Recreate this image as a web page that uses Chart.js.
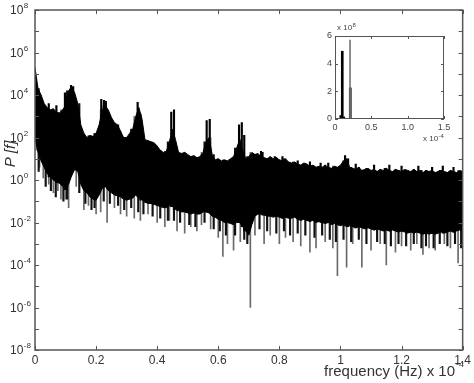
<!DOCTYPE html>
<html><head><meta charset="utf-8">
<script src="https://cdn.jsdelivr.net/npm/chart.js@4.4.0/dist/chart.umd.min.js"></script>
<style>
html,body{margin:0;padding:0;background:#fff;}
#wrap{position:relative;width:474px;height:383px;overflow:hidden;}
#main{position:absolute;left:0;top:0;}
#inset{position:absolute;left:310px;top:22px;}
</style></head><body>
<div id="wrap">
<canvas id="main" width="474" height="383"></canvas>
<canvas id="inset" width="150" height="125"></canvas>
</div>
<script>
// ---------- data ----------
// frequency (x 10^-4 Hz)
const freq = [
0.00,0.01,0.02,0.03,0.04,0.05,0.06,0.07,0.08,0.09,
0.10,0.11,0.12,0.13,0.14,0.15,0.16,0.17,0.18,0.19,
0.20,0.21,0.22,0.23,0.24,0.25,0.26,0.27,0.28,0.29,
0.30,0.31,0.32,0.33,0.34,0.35,0.36,0.37,0.38,0.39,
0.40,0.41,0.42,0.43,0.44,0.45,0.46,0.47,0.48,0.49,
0.50,0.51,0.52,0.53,0.54,0.55,0.56,0.57,0.58,0.59,
0.60,0.61,0.62,0.63,0.64,0.65,0.66,0.67,0.68,0.69,
0.70,0.71,0.72,0.73,0.74,0.75,0.76,0.77,0.78,0.79,
0.80,0.81,0.82,0.83,0.84,0.85,0.86,0.87,0.88,0.89,
0.90,0.91,0.92,0.93,0.94,0.95,0.96,0.97,0.98,0.99,
1.00,1.01,1.02,1.03,1.04,1.05,1.06,1.07,1.08,1.09,
1.10,1.11,1.12,1.13,1.14,1.15,1.16,1.17,1.18,1.19,
1.20,1.21,1.22,1.23,1.24,1.25,1.26,1.27,1.28,1.29,
1.30,1.31,1.32,1.33,1.34,1.35,1.36,1.37,1.38,1.39,
1.40];
// upper envelope of the spectrum, log10 P[f]
const upperExp = [
5.3,4.3,4.0,3.6,3.4,3.3,3.35,3.2,3.15,3.3,
3.5,4.2,4.4,4.1,3.6,2.6,2.2,2.0,2.1,2.05,
2.2,2.6,3.3,3.5,3.3,2.95,2.7,2.6,2.3,2.0,
2.0,2.2,2.4,3.0,3.4,2.9,1.9,1.85,1.8,1.75,
1.6,1.4,1.3,1.35,1.8,2.4,1.9,1.3,1.25,1.3,
1.2,1.1,1.15,1.05,1.1,1.3,1.8,2.0,1.2,0.95,
1.0,0.9,0.95,0.9,1.0,1.1,1.5,1.9,1.4,1.0,
1.1,1.3,1.2,1.25,1.1,1.05,1.0,1.1,1.0,1.05,
0.95,0.9,1.0,0.85,0.8,0.85,0.75,0.7,0.8,0.75,
0.65,0.7,0.6,0.65,0.6,0.7,0.6,0.55,0.65,0.6,
0.7,0.9,1.0,0.6,0.55,0.5,0.6,0.45,0.5,0.55,
0.45,0.5,0.4,0.5,0.45,0.55,0.45,0.4,0.5,0.45,
0.4,0.5,0.45,0.4,0.5,0.4,0.45,0.35,0.45,0.4,
0.45,0.35,0.4,0.45,0.4,0.35,0.45,0.4,0.35,0.45,
0.4];
// lower envelope of the dense black band, log10 P[f]
const lowerExp = [
2.0,1.3,0.9,0.6,0.3,0.15,0.0,-0.1,-0.15,-0.3,
-0.45,-0.2,0.2,0.5,0.4,-0.2,-0.5,-0.6,-0.8,-0.9,
-0.95,-0.7,-0.4,-0.3,-0.5,-0.6,-0.7,-0.75,-0.8,-0.9,
-0.95,-0.9,-0.85,-0.7,-0.8,-0.95,-1.05,-1.1,-1.1,-1.15,
-1.2,-1.25,-1.3,-1.3,-1.2,-1.25,-1.4,-1.45,-1.5,-1.5,
-1.55,-1.6,-1.55,-1.6,-1.6,-1.5,-1.5,-1.55,-1.7,-1.75,
-1.85,-1.9,-2.0,-2.0,-2.05,-2.1,-2.0,-2.0,-2.2,-2.4,
-2.6,-2.1,-1.7,-1.6,-1.6,-1.65,-1.7,-1.7,-1.75,-1.7,
-1.75,-1.8,-1.75,-1.8,-1.8,-1.75,-1.85,-1.9,-1.85,-1.9,
-1.95,-1.9,-2.0,-1.95,-2.0,-2.05,-2.0,-2.1,-2.05,-2.1,
-2.15,-2.1,-2.2,-2.15,-2.2,-2.25,-2.2,-2.25,-2.3,-2.25,
-2.3,-2.35,-2.3,-2.35,-2.4,-2.35,-2.4,-2.35,-2.4,-2.45,
-2.4,-2.45,-2.5,-2.45,-2.5,-2.45,-2.5,-2.55,-2.5,-2.55,
-2.5,-2.55,-2.5,-2.45,-2.5,-2.45,-2.4,-2.45,-2.4,-2.35,
-2.4];
// narrow upward peaks: frequency, log10 P
const upSpikeX   = [0.045,0.07,0.098,0.103,0.118,0.125,0.217,0.226,0.232,0.336,0.345,0.446,0.455,0.562,0.572,0.668,0.677,0.685,0.74,0.745,0.785,0.81,0.86,0.9,0.935,0.96,1.015,1.025,1.05,1.11,1.16,1.2,1.255,1.3,1.335,1.37];
const upSpikeExp = [3.6,3.5,4.1,3.9,4.45,4.4,3.8,3.75,3.7,3.65,3.1,3.2,3.3,2.8,2.85,2.6,2.7,2.1,1.35,1.3,1.1,1.1,0.9,0.85,0.8,0.8,1.15,1.0,0.75,0.7,0.7,0.65,0.65,0.6,0.65,0.6];
// black downward fluctuations
const dipX   = [0.012,0.035,0.052,0.068,0.093,0.105,0.145,0.165,0.185,0.195,0.225,0.245,0.272,0.292,0.315,0.338,0.355,0.385,0.41,0.435,0.455,0.475,0.505,0.525,0.555,0.585,0.605,0.625,0.655,0.685,0.695,0.735,0.76,0.79,0.815,0.835,0.86,0.885,0.915,0.94,0.965,0.985,1.01,1.035,1.06,1.085,1.12,1.145,1.165,1.19,1.215,1.24,1.265,1.28,1.305,1.325,1.35,1.375,1.395];
const dipExp = [0.4,-0.3,-0.5,-0.8,-1.0,-0.9,-0.6,-1.1,-1.4,-1.3,-1.0,-1.1,-1.2,-1.4,-1.3,-1.5,-1.6,-1.7,-1.8,-1.9,-1.9,-2.0,-2.1,-2.2,-2.0,-2.3,-2.4,-2.6,-2.6,-2.8,-3.0,-2.3,-2.4,-2.5,-2.4,-2.6,-2.5,-2.6,-2.7,-2.6,-2.8,-2.9,-2.8,-2.9,-2.8,-3.0,-2.9,-3.0,-3.1,-3.0,-3.1,-3.0,-3.2,-3.1,-3.2,-3.0,-3.1,-3.0,-3.2];
// grey deep downward spikes
const grayDipX   = [0.005,0.015,0.027,0.045,0.06,0.075,0.085,0.1,0.11,0.135,0.16,0.175,0.2,0.215,0.236,0.26,0.28,0.3,0.325,0.345,0.37,0.4,0.425,0.44,0.465,0.49,0.51,0.53,0.545,0.575,0.6,0.615,0.63,0.65,0.672,0.705,0.72,0.75,0.77,0.8,0.82,0.845,0.87,0.9,0.92,0.95,0.975,0.99,1.02,1.04,1.07,1.1,1.13,1.15,1.18,1.2,1.23,1.25,1.27,1.29,1.31,1.34,1.36,1.385];
const grayDipExp = [1.4,0.6,0.1,-0.2,-0.6,-0.5,-0.9,-0.9,-1.3,-0.3,-1.4,-1.2,-1.6,-1.5,-2.0,-1.3,-1.6,-1.7,-1.8,-1.9,-1.6,-2.0,-2.2,-1.9,-2.4,-2.5,-2.2,-2.4,-2.1,-2.3,-2.7,-3.6,-3.0,-3.3,-2.9,-6.0,-2.6,-3.0,-2.6,-3.0,-2.7,-2.9,-3.1,-3.4,-3.2,-2.9,-3.2,-4.5,-4.1,-3.0,-4.1,-3.3,-3.0,-4.0,-3.4,-3.1,-3.3,-3.0,-3.5,-3.2,-3.3,-3.0,-3.2,-3.9];
// axis ticks
const xTickValues = [0,0.2,0.4,0.6,0.8,1.0,1.2,1.4];
const yTickValues = [1e-8,1e-7,1e-6,1e-5,1e-4,1e-3,1e-2,1e-1,1e0,1e1,1e2,1e3,1e4,1e5,1e6,1e7,1e8];
const yLabelExps = [8,6,4,2,0,-2,-4,-6,-8];
// inset (linear, x 10^8 vs x 10^-4 Hz)
const insetBarX = [0.08,0.1,0.12,0.21];
const insetBarY = [0.25,4.9,0.15,2.25];
const insetLineX = [0.207];
const insetLineY = [5.7];
const insetXTicks = [0,0.5,1,1.5];
const insetYTicks = [0,2,4,6];

// ---------- chart ----------
const FONT = "'Liberation Sans', Arial, Helvetica, sans-serif";
Chart.defaults.font.family = FONT;
Chart.defaults.color = '#333';
const p10 = e => Math.pow(10, e);
const idx = x => Math.min(freq.length-1, Math.max(0, Math.round(x/0.01)));

const upperPts = freq.map((f,i)=>({x:f, y:p10(upperExp[i])}));
const lowerPts = freq.map((f,i)=>({x:f, y:p10(lowerExp[i])}));
const upSpikes = upSpikeX.map((x,i)=>({x, y:[p10(lowerExp[idx(x)]), p10(upSpikeExp[i])]}));
const dips = dipX.map((x,i)=>({x, y:[p10(dipExp[i]), p10(upperExp[idx(x)])]}));
const grayDips = grayDipX.map((x,i)=>({x, y:[p10(grayDipExp[i]), p10(upperExp[idx(x)])]}));

function drawSup(ctx, base, exp, x, y, bigSize, smallSize, dy){
  ctx.font = bigSize + 'px ' + FONT;
  ctx.textAlign = 'left';
  ctx.fillText(base, x, y);
  const w = ctx.measureText(base).width;
  ctx.font = smallSize + 'px ' + FONT;
  ctx.fillText(exp, x + w + 0.5, y - dy);
}

const mainDeco = {
  id: 'mainDeco',
  afterDraw(chart){
    const {ctx, chartArea:a, scales:{x, y}} = chart;
    ctx.save();
    ctx.strokeStyle = '#555'; ctx.lineWidth = 1;
    ctx.beginPath();
    xTickValues.forEach(v=>{
      const px = Math.round(x.getPixelForValue(v)) + 0.5;
      ctx.moveTo(px, a.bottom); ctx.lineTo(px, a.bottom - 4);
      ctx.moveTo(px, a.top); ctx.lineTo(px, a.top + 4);
    });
    yTickValues.forEach(v=>{
      const py = Math.round(y.getPixelForValue(v)) + 0.5;
      ctx.moveTo(a.left, py); ctx.lineTo(a.left + 4, py);
      ctx.moveTo(a.right, py); ctx.lineTo(a.right - 4, py);
    });
    ctx.stroke();
    ctx.lineWidth = 1.5;
    ctx.strokeRect(a.left, a.top, a.right - a.left, a.bottom - a.top);
    // y tick labels 10^n
    ctx.fillStyle = '#333';
    ctx.textBaseline = 'middle';
    yLabelExps.forEach(e=>{
      const py = y.getPixelForValue(p10(e));
      drawSup(ctx, '10', String(e), 10, py + 1, 12, 8, 5);
    });
    // x title
    ctx.textBaseline = 'alphabetic';
    ctx.font = '15px ' + FONT;
    ctx.textAlign = 'right';
    ctx.fillText('frequency (Hz) x 10', 455, 376);
    ctx.font = '9px ' + FONT;
    ctx.textAlign = 'left';
    ctx.fillText('-4', 456, 367);
    // y title
    ctx.save();
    ctx.translate(11, 154);
    ctx.rotate(-Math.PI/2);
    ctx.font = 'italic 15px ' + FONT;
    ctx.textAlign = 'center';
    ctx.textBaseline = 'middle';
    ctx.fillText('P [f]', 0, 0);
    ctx.restore();
    ctx.restore();
  }
};

new Chart(document.getElementById('main'), {
  type: 'line',
  data: {
    datasets: [
      {type:'line', data: upperPts, borderColor:'#000', backgroundColor:'#000', borderWidth:1, pointRadius:0, fill:'+1', order:0},
      {type:'line', data: lowerPts, borderColor:'#000', backgroundColor:'#000', borderWidth:1, pointRadius:0, fill:false, order:0},
      {type:'bar', data: upSpikes, backgroundColor:'#000', barThickness:1.5, grouped:false, order:1},
      {type:'bar', data: dips, backgroundColor:'#111', barThickness:1.5, grouped:false, order:2},
      {type:'bar', data: grayDips, backgroundColor:'#6a6a6a', barThickness:1, grouped:false, order:3}
    ]
  },
  options: {
    responsive:false, animation:false, devicePixelRatio:1,
    layout:{padding:{left:0, right:9, top:10, bottom:0}},
    plugins:{legend:{display:false}, tooltip:{enabled:false}},
    scales:{
      x:{type:'linear', min:0, max:1.4, offset:false,
         grid:{display:false, drawTicks:false, tickLength:0}, border:{display:false},
         afterBuildTicks(s){ s.ticks = xTickValues.map(v=>({value:v})); },
         ticks:{autoSkip:false, maxRotation:0, padding:3, color:'#333', font:{size:12},
                callback:v=>String(+v.toFixed(1))},
         afterFit(s){ s.height = 33; }},
      y:{type:'logarithmic', min:1e-8, max:1e8,
         grid:{display:false, drawTicks:false, tickLength:0}, border:{display:false},
         afterBuildTicks(s){ s.ticks = yTickValues.map(v=>({value:v})); },
         ticks:{display:false},
         afterFit(s){ s.width = 35; }}
    }
  },
  plugins:[mainDeco]
});

const insetDeco = {
  id:'insetDeco',
  afterDraw(chart){
    const {ctx, chartArea:a, scales:{x, y}} = chart;
    ctx.save();
    ctx.strokeStyle = '#555'; ctx.lineWidth = 1;
    ctx.beginPath();
    insetXTicks.forEach(v=>{
      const px = Math.round(x.getPixelForValue(v)) + 0.5;
      ctx.moveTo(px, a.bottom); ctx.lineTo(px, a.bottom - 3);
      ctx.moveTo(px, a.top); ctx.lineTo(px, a.top + 3);
    });
    insetYTicks.forEach(v=>{
      const py = Math.round(y.getPixelForValue(v)) + 0.5;
      ctx.moveTo(a.left, py); ctx.lineTo(a.left + 3, py);
      ctx.moveTo(a.right, py); ctx.lineTo(a.right - 3, py);
    });
    ctx.stroke();
    ctx.strokeRect(a.left + 0.5, a.top + 0.5, a.right - a.left - 1, a.bottom - a.top - 1);
    ctx.fillStyle = '#444';
    ctx.textBaseline = 'middle';
    drawSup(ctx, 'x 10', '8', a.left + 2, a.top - 8, 8, 6, 3);
    drawSup(ctx, 'x 10', '-4', a.right - 21, a.bottom + 20, 8, 6, 3);
    ctx.restore();
  }
};

new Chart(document.getElementById('inset'), {
  type:'bar',
  data:{
    datasets:[
      {data: insetLineX.map((x,i)=>({x, y:insetLineY[i]})), backgroundColor:'#777', barThickness:1, grouped:false},
      {data: insetBarX.map((x,i)=>({x, y:insetBarY[i]})), backgroundColor:'#000', barThickness:2, grouped:false}
    ]
  },
  options:{
    responsive:false, animation:false, devicePixelRatio:1,
    layout:{padding:{left:0, right:16, top:14, bottom:0}},
    plugins:{legend:{display:false}, tooltip:{enabled:false}},
    scales:{
      x:{type:'linear', min:0, max:1.5, offset:false,
         grid:{display:false, drawTicks:false, tickLength:0}, border:{display:false},
         afterBuildTicks(s){ s.ticks = insetXTicks.map(v=>({value:v})); },
         ticks:{autoSkip:false, maxRotation:0, padding:3, color:'#444', font:{size:9}},
         afterFit(s){ s.height = 28; }},
      y:{type:'linear', min:0, max:6,
         grid:{display:false, drawTicks:false, tickLength:0}, border:{display:false},
         afterBuildTicks(s){ s.ticks = insetYTicks.map(v=>({value:v})); },
         ticks:{padding:3, color:'#444', font:{size:9}},
         afterFit(s){ s.width = 25; }}
    }
  },
  plugins:[insetDeco]
});
</script>
</body></html>
